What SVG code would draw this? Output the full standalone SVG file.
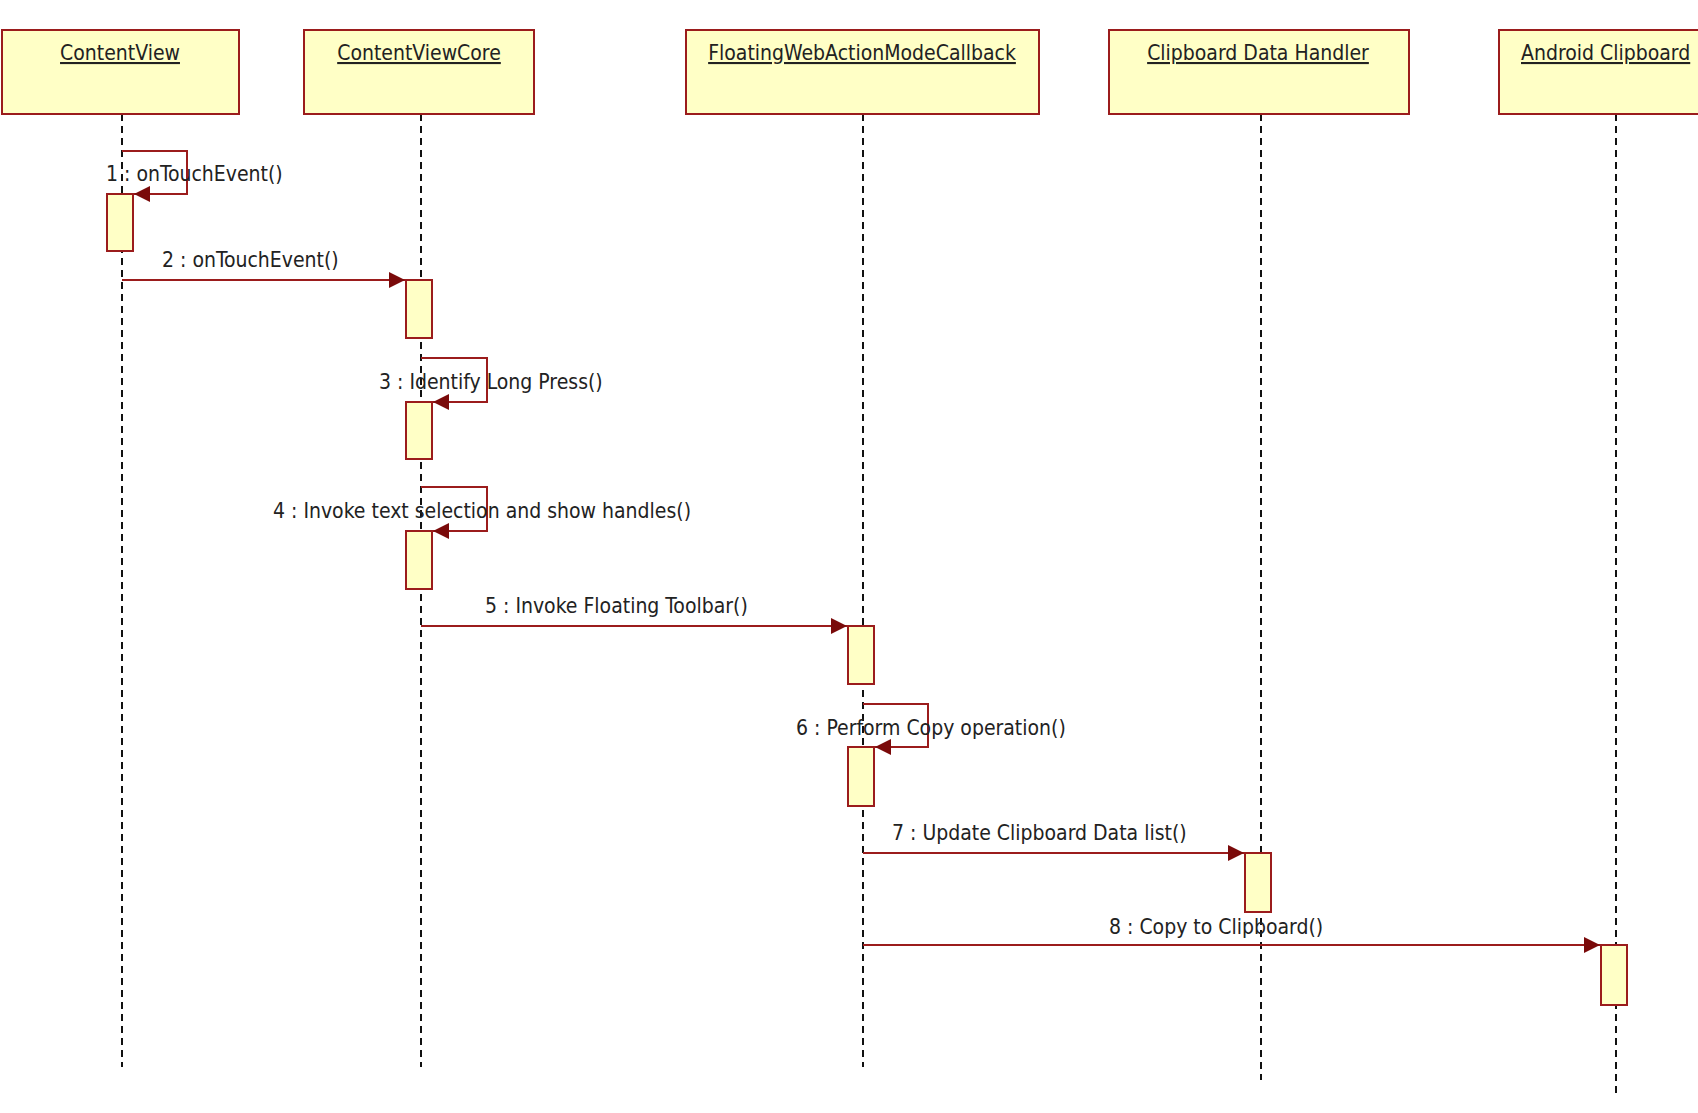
<svg xmlns="http://www.w3.org/2000/svg" width="1698" height="1113" viewBox="0 0 1698 1113">
<style>
.box{fill:#FFFFC6;stroke:#9B1C1C;stroke-width:2}
.act{fill:#FFFFC6;stroke:#9B1C1C;stroke-width:2}
.life{stroke:#111;stroke-width:2;stroke-dasharray:7,5;fill:none}
.msg{stroke:#9B1C1C;stroke-width:2;fill:none}
.t{font-family:"DejaVu Sans Condensed","Liberation Sans",sans-serif;font-size:21px;fill:#222}
.h{text-decoration:underline;text-anchor:middle}
</style>
<defs>
<marker id="ah" viewBox="0 0 10 10" refX="10" refY="5" markerWidth="20" markerHeight="16" markerUnits="userSpaceOnUse" orient="auto">
<path d="M0,0 L10,5 L0,10 z" fill="#7A0A0A"/>
</marker>
</defs>
<g id="lifelines">
<line class="life" x1="122" y1="114" x2="122" y2="1067"/>
<line class="life" x1="421" y1="114" x2="421" y2="1067"/>
<line class="life" x1="863" y1="114" x2="863" y2="1067"/>
<line class="life" x1="1261" y1="114" x2="1261" y2="1080"/>
<line class="life" x1="1616" y1="114" x2="1616" y2="1094"/>
</g>
<g id="n1"><rect class="box" x="2" y="30" width="237" height="84"/><text class="t h" x="120" y="60">ContentView</text></g>
<g id="n2"><rect class="box" x="304" y="30" width="230" height="84"/><text class="t h" x="419" y="60">ContentViewCore</text></g>
<g id="n3"><rect class="box" x="686" y="30" width="353" height="84"/><text class="t h" x="862" y="60">FloatingWebActionModeCallback</text></g>
<g id="n4"><rect class="box" x="1109" y="30" width="300" height="84"/><text class="t h" x="1258" y="60">Clipboard Data Handler</text></g>
<g id="n5"><rect class="box" x="1499" y="30" width="210" height="84"/><text class="t" x="1521" y="60" style="text-decoration:underline">Android Clipboard</text></g>
<g id="activations">
<rect class="act" x="107" y="194" width="26" height="57"/>
<rect class="act" x="406" y="280" width="26" height="58"/>
<rect class="act" x="406" y="402" width="26" height="57"/>
<rect class="act" x="406" y="531" width="26" height="58"/>
<rect class="act" x="848" y="626" width="26" height="58"/>
<rect class="act" x="848" y="747" width="26" height="59"/>
<rect class="act" x="1245" y="853" width="26" height="59"/>
<rect class="act" x="1601" y="945" width="26" height="60"/>
</g>
<g id="connectors">
<polyline class="msg" points="122,151 187,151 187,194 134,194" marker-end="url(#ah)"/>
<line class="msg" x1="122" y1="280" x2="405" y2="280" marker-end="url(#ah)"/>
<polyline class="msg" points="421,358 487,358 487,402 433,402" marker-end="url(#ah)"/>
<polyline class="msg" points="421,487 487,487 487,531 433,531" marker-end="url(#ah)"/>
<line class="msg" x1="421" y1="626" x2="847" y2="626" marker-end="url(#ah)"/>
<polyline class="msg" points="863,704 928,704 928,747 875,747" marker-end="url(#ah)"/>
<line class="msg" x1="863" y1="853" x2="1244" y2="853" marker-end="url(#ah)"/>
<line class="msg" x1="863" y1="945" x2="1600" y2="945" marker-end="url(#ah)"/>
</g>
<g id="labels">
<text class="t" x="106" y="181">1 : onTouchEvent()</text>
<text class="t" x="162" y="267">2 : onTouchEvent()</text>
<text class="t" x="379" y="389">3 : Identify Long Press()</text>
<text class="t" x="273" y="518">4 : Invoke text selection and show handles()</text>
<text class="t" x="485" y="613">5 : Invoke Floating Toolbar()</text>
<text class="t" x="796" y="735">6 : Perform Copy operation()</text>
<text class="t" x="892" y="840">7 : Update Clipboard Data list()</text>
<text class="t" x="1109" y="934">8 : Copy to Clipboard()</text>
</g>
</svg>
